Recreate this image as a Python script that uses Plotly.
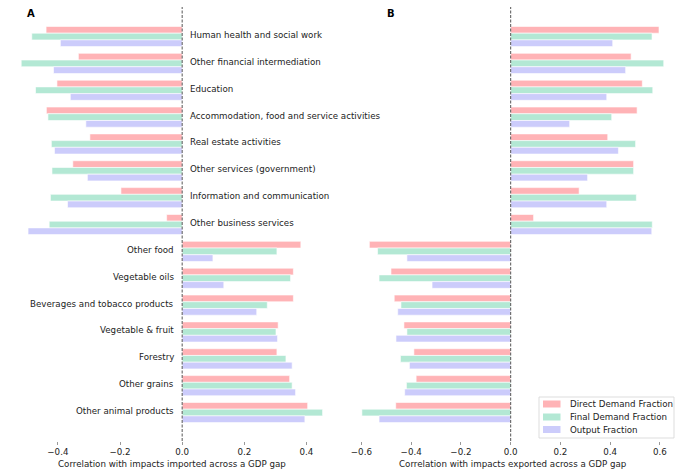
import plotly.graph_objects as go

categories = [
    "Human health and social work",
    "Other financial intermediation",
    "Education",
    "Accommodation, food and service activities",
    "Real estate activities",
    "Other services (government)",
    "Information and communication",
    "Other business services",
    "Other food",
    "Vegetable oils",
    "Beverages and tobacco products",
    "Vegetable & fruit",
    "Forestry",
    "Other grains",
    "Other animal products",
]

series_names = ["Direct Demand Fraction", "Final Demand Fraction", "Output Fraction"]

imported_direct = [-0.438, -0.334, -0.403, -0.437, -0.297, -0.352, -0.197, -0.050,
                   0.382, 0.358, 0.358, 0.309, 0.305, 0.346, 0.404]
imported_final = [-0.484, -0.518, -0.472, -0.432, -0.421, -0.419, -0.424, -0.428,
                  0.305, 0.349, 0.274, 0.302, 0.334, 0.354, 0.452]
imported_output = [-0.392, -0.414, -0.360, -0.310, -0.411, -0.305, -0.369, -0.496,
                   0.099, 0.134, 0.240, 0.307, 0.354, 0.365, 0.395]

exported_direct = [0.596, 0.484, 0.529, 0.508, 0.390, 0.494, 0.275, 0.092,
                   -0.568, -0.481, -0.468, -0.429, -0.389, -0.380, -0.462]
exported_final = [0.568, 0.615, 0.571, 0.406, 0.502, 0.494, 0.505, 0.569,
                  -0.535, -0.529, -0.441, -0.417, -0.443, -0.419, -0.598]
exported_output = [0.410, 0.462, 0.386, 0.237, 0.433, 0.309, 0.386, 0.567,
                   -0.417, -0.316, -0.454, -0.461, -0.407, -0.426, -0.529]

x_ticks_left = [-0.4, -0.2, 0.0, 0.2, 0.4]
x_ticks_right = [-0.6, -0.4, -0.2, 0.0, 0.2, 0.4, 0.6]

colors = ["#ffb3b6", "#b3e8d4", "#ccccfb"]
FONT = "DejaVu Sans"
FS = 8.7

ypos = list(range(len(categories)))

fig = go.Figure()
left_series = [imported_direct, imported_final, imported_output]
right_series = [exported_direct, exported_final, exported_output]
for k in range(3):
    fig.add_trace(go.Bar(
        x=left_series[k], y=ypos, orientation="h", name=series_names[k],
        marker=dict(color=colors[k], line=dict(color="white", width=0.6)),
        xaxis="x", yaxis="y", offsetgroup=str(k), showlegend=False,
    ))
for k in range(3):
    fig.add_trace(go.Bar(
        x=right_series[k], y=ypos, orientation="h", name=series_names[k],
        marker=dict(color=colors[k], line=dict(color="white", width=0.6)),
        xaxis="x2", yaxis="y2", offsetgroup=str(k), showlegend=False,
    ))

W, H = 685, 469
ydom = [(H - 441) / H, (H - 7) / H]
yr = [15.06, -1.10]

axis_common = dict(
    showgrid=False, zeroline=False, showline=False,
    ticks="outside", ticklen=3, tickwidth=0.7, tickcolor="#999",
    tickfont=dict(family=FONT, size=FS, color="#222"),
)

fig.update_layout(
    width=W, height=H,
    margin=dict(l=0, r=0, t=0, b=0),
    paper_bgcolor="white", plot_bgcolor="white",
    barmode="group", bargap=0.25, bargroupgap=0,
    font=dict(family=FONT, size=FS, color="#222"),
    xaxis=dict(domain=[6 / W, 337.5 / W], range=[-0.567, 0.50],
               tickvals=x_ticks_left, tickformat=".1f", anchor="y", **axis_common),
    xaxis2=dict(domain=[346.7 / W, 678.9 / W], range=[-0.659, 0.676],
                tickvals=x_ticks_right, tickformat=".1f", anchor="y2", **axis_common),
    yaxis=dict(domain=ydom, range=yr, showticklabels=False, showgrid=False,
               zeroline=False, showline=False, anchor="x"),
    yaxis2=dict(domain=ydom, range=yr, showticklabels=False, showgrid=False,
                zeroline=False, showline=False, anchor="x2"),
    showlegend=False,
)

# zero reference lines
for xr, yref in (("x", "y domain"), ("x2", "y2 domain")):
    fig.add_shape(type="line", xref=xr, yref=yref, x0=0, x1=0, y0=0, y1=1,
                  line=dict(color="#555", width=1, dash="3px,1.5px"))

# category labels next to zero line in left panel
for i, cat in enumerate(categories):
    neg = imported_direct[i] + imported_final[i] + imported_output[i] < 0
    fig.add_annotation(
        x=0, y=i, xref="x", yref="y", text=cat, showarrow=False,
        xanchor="left" if neg else "right", xshift=6 if neg else -6, yshift=1.5,
        font=dict(family=FONT, size=FS, color="#222"),
    )

# axis titles
for xd, txt in (("x domain", "Correlation with impacts imported across a GDP gap"),
                ("x2 domain", "Correlation with impacts exported across a GDP gap")):
    fig.add_annotation(x=0.5, xref=xd, y=(H - 464) / H, yref="paper", text=txt,
                       showarrow=False, xanchor="center", yanchor="middle",
                       font=dict(family=FONT, size=FS, color="#222"))

# panel letters
for px, letter in ((31, "A"), (390.7, "B")):
    fig.add_annotation(x=px / W, y=(H - 13) / H, xref="paper", yref="paper",
                       text="<b>%s</b>" % letter, showarrow=False,
                       xanchor="center", yanchor="middle",
                       font=dict(family=FONT, size=10, color="black"))

# legend (drawn manually to match compact layout)
lx0, lx1, ly0, ly1 = 539, 674, 397, 438
fig.add_shape(type="rect", xref="paper", yref="paper",
              x0=lx0 / W, x1=lx1 / W, y0=(H - ly1) / H, y1=(H - ly0) / H,
              line=dict(color="#d4d4d4", width=0.8), fillcolor="white", opacity=1)
row_y = [404, 417, 429.5]
for k in range(3):
    cy = row_y[k]
    fig.add_shape(type="rect", xref="paper", yref="paper",
                  x0=543 / W, x1=560.5 / W, y0=(H - cy - 3.5) / H, y1=(H - cy + 3.5) / H,
                  line=dict(width=0), fillcolor=colors[k])
    fig.add_annotation(x=567.5 / W, y=(H - cy) / H, xref="paper", yref="paper",
                       text=series_names[k], showarrow=False,
                       xanchor="left", yanchor="middle",
                       font=dict(family=FONT, size=FS, color="#222"))

fig.write_html("out.html")
